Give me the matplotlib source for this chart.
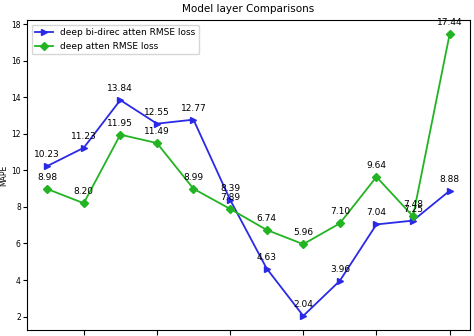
import matplotlib
matplotlib.use("Agg")
import matplotlib.pyplot as plt

x = list(range(1, 13))
blue_vals = [10.23, 11.23, 13.84, 12.55, 12.77, 8.39, 4.63, 2.04, 3.96, 7.04, 7.25, 8.88]
green_vals = [8.98, 8.20, 11.95, 11.49, 8.99, 7.89, 6.74, 5.96, 7.10, 9.64, 7.48, 17.44]
blue_label = "deep bi-direc atten RMSE loss"
green_label = "deep atten RMSE loss"
yticks = [2, 4, 6, 8, 10, 12, 14, 16, 18]
xticks = [2, 4, 6, 8, 10, 12]

fig = plt.figure(figsize=(4.74, 3.36), dpi=100)
ax = fig.add_axes([0.057, 0.018, 0.934, 0.922])
ax.plot(x, blue_vals, color="#2a2ae6", marker=">", markersize=5, linewidth=1.3, label=blue_label)
ax.plot(x, green_vals, color="#22b422", marker="D", markersize=4, linewidth=1.3, label=green_label)
for xi, v in zip(x, blue_vals):
    ax.annotate(f"{v:.2f}", (xi, v), xytext=(0, 5), textcoords="offset points", ha="center", va="bottom", fontsize=6.5)
for xi, v in zip(x, green_vals):
    ax.annotate(f"{v:.2f}", (xi, v), xytext=(0, 5), textcoords="offset points", ha="center", va="bottom", fontsize=6.5)
ax.set_xticks(xticks)
ax.set_xticklabels([])
ax.set_yticks(yticks)
ax.tick_params(axis="y", labelsize=5.5, pad=1.5, length=3)
ax.set_ylabel("MAPE", fontsize=5.5)
ax.yaxis.set_label_coords(-0.042, 0.5)
ax.set_title("Model layer Comparisons", fontsize=7.5)
ax.legend(loc="upper left", fontsize=6.5)
fig.savefig("out.png", dpi=100)
